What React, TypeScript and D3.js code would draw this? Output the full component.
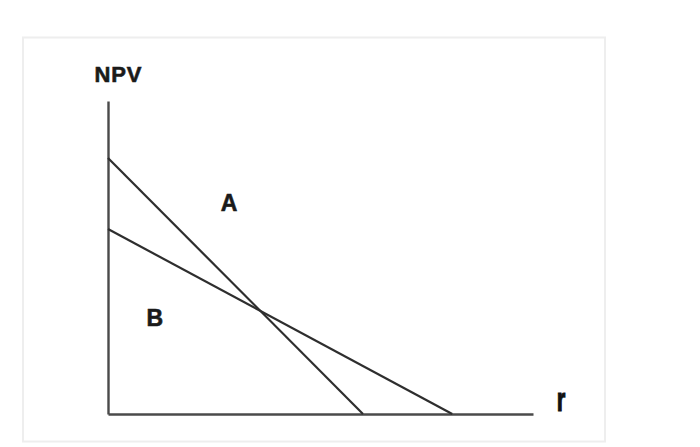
import React, { useEffect, useRef } from 'react';
import * as d3 from 'd3';

// NPV profiles: NPV against discount rate r (arbitrary units)
const projectA: { r: number; npv: number }[] = [
  { r: 0, npv: 81.8 },
  { r: 12, npv: 0 },
];
const projectB: { r: number; npv: number }[] = [
  { r: 0, npv: 59.1 },
  { r: 16.2, npv: 0 },
];
const rDomain: [number, number] = [0, 20];
const npvDomain: [number, number] = [0, 100];

// labels placed in data units
const regionLabels: { text: string; r: number; npv: number }[] = [
  { text: 'A', r: 5.7, npv: 65.0 },
  { text: 'B', r: 2.2, npv: 28.2 },
];

const App: React.FC = () => {
  const containerRef = useRef<HTMLDivElement | null>(null);

  useEffect(() => {
    if (!containerRef.current) return;
    containerRef.current.innerHTML = '';

    const width = 700;
    const height = 447;
    const margin = { top: 101, right: 167, bottom: 33, left: 108 };
    const graphWidth = width - margin.left - margin.right;
    const graphHeight = height - margin.top - margin.bottom;

    const xScale = d3.scaleLinear().domain(rDomain).range([0, graphWidth]);
    const yScale = d3.scaleLinear().domain(npvDomain).range([graphHeight, 0]);

    const svg = d3
      .select(containerRef.current)
      .append('svg')
      .attr('width', width)
      .attr('height', height)
      .style('position', 'absolute')
      .style('left', '0px')
      .style('top', '0px')
      .style('background', '#ffffff');

    // faint frame around the figure
    svg
      .append('rect')
      .attr('x', 23)
      .attr('y', 37.5)
      .attr('width', 582)
      .attr('height', 404)
      .attr('fill', '#ffffff')
      .attr('stroke', '#eeeeee')
      .attr('stroke-width', 2);

    const g = svg.append('g').attr('transform', `translate(${margin.left}, ${margin.top})`);

    // axes without ticks
    const xAxis = g
      .append('g')
      .attr('transform', `translate(0, ${graphHeight})`)
      .call(d3.axisBottom(xScale).ticks(0).tickSize(0).tickSizeOuter(0));
    xAxis.select('.domain').attr('stroke', '#4a4a4a').attr('stroke-width', 2.6);
    xAxis.selectAll('text').remove();

    const yAxis = g.append('g').call(d3.axisLeft(yScale).ticks(0).tickSize(0).tickSizeOuter(0));
    yAxis.select('.domain').attr('stroke', '#4a4a4a').attr('stroke-width', 2.4);
    yAxis.selectAll('text').remove();

    const line = d3
      .line<{ r: number; npv: number }>()
      .x((d) => xScale(d.r))
      .y((d) => yScale(d.npv));

    [projectA, projectB].forEach((series) => {
      g.append('path')
        .datum(series)
        .attr('fill', 'none')
        .attr('stroke', '#2e2e2e')
        .attr('stroke-width', 2.2)
        .attr('d', line);
    });

    const font = '"Liberation Sans", Arial, sans-serif';

    regionLabels.forEach((lbl) => {
      g.append('text')
        .attr('x', xScale(lbl.r))
        .attr('y', yScale(lbl.npv))
        .attr('text-anchor', 'middle')
        .attr('font-family', font)
        .attr('font-weight', 'bold')
        .attr('font-size', 23)
        .attr('fill', '#1a1a1a')
        .attr('stroke', '#1a1a1a')
        .attr('stroke-width', 0.6)
        .text(lbl.text);
    });

    // axis titles
    g.append('text')
      .attr('x', xScale(0) + 10)
      .attr('y', yScale(npvDomain[1]) - 19.5)
      .attr('text-anchor', 'middle')
      .attr('font-family', font)
      .attr('font-weight', 'bold')
      .attr('font-size', 22)
      .attr('textLength', 47)
      .attr('fill', '#1a1a1a')
      .attr('stroke', '#1a1a1a')
      .attr('stroke-width', 0.6)
      .text('NPV');

    g.append('text')
      .attr('transform', `translate(${xScale(rDomain[1]) + 28}, ${yScale(0) - 3.5}) scale(0.85, 1.3)`)
      .attr('text-anchor', 'middle')
      .attr('font-family', font)
      .attr('font-weight', 'bold')
      .attr('font-size', 26)
      .attr('fill', '#111111')
      .attr('stroke', '#111111')
      .attr('stroke-width', 0.9)
      .text('r');
  }, []);

  return <div ref={containerRef} id="npv-chart-container" />;
};

export default App;
